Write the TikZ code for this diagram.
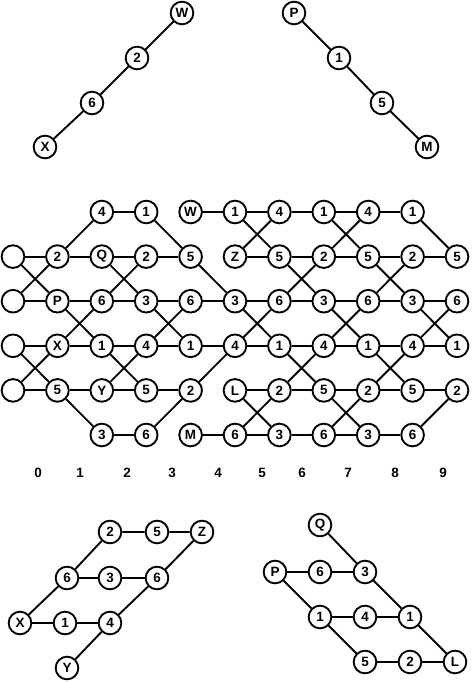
\documentclass[tikz,border=0pt]{standalone}
\usepackage{fontspec}
\setmainfont{Liberation Sans}
\tikzset{
	knot/.style={circle, draw, line width=1.6pt, minimum size=0.68cm, inner sep=0pt, font=\fontsize{11.5}{13}\selectfont\bfseries},
	stage/.style={inner sep=0pt, font=\fontsize{11.5}{13}\selectfont\bfseries},
}
\begin{document}
\begin{tikzpicture}[x=0.03cm, y=-0.03cm, line width=1.6pt]
	\useasboundingbox (0,0) rectangle (474,682);

	% top left chain
	\node[knot] (tW) at (182,13) {W};
	\node[knot] (t2) at (137,58) {2};
	\node[knot] (t6) at (92,103) {6};
	\node[knot] (tX) at (45,147) {X};
	\draw (tW) -- (t2) -- (t6) -- (tX);

	% top right chain
	\node[knot] (tP) at (294,13) {P};
	\node[knot] (t1) at (339,58) {1};
	\node[knot] (t5) at (382,103) {5};
	\node[knot] (tM) at (427,147) {M};
	\draw (tP) -- (t1) -- (t5) -- (tM);

	% lattice, row 0
	\node[knot] (r0c2) at (101.8,212) {4};
	\node[knot] (r0c3) at (146.2,212) {1};
	\node[knot] (r0c4) at (190.6,212) {W};
	\node[knot] (r0c5) at (235,212) {1};
	\node[knot] (r0c6) at (279.4,212) {4};
	\node[knot] (r0c7) at (323.8,212) {1};
	\node[knot] (r0c8) at (368.2,212) {4};
	\node[knot] (r0c9) at (412.6,212) {1};

	% row 1
	\node[knot] (r1c0) at (13,256.6) {};
	\node[knot] (r1c1) at (57.4,256.6) {2};
	\node[knot] (r1c2) at (101.8,256.6) {Q};
	\node[knot] (r1c3) at (146.2,256.6) {2};
	\node[knot] (r1c4) at (190.6,256.6) {5};
	\node[knot] (r1c5) at (235,256.6) {Z};
	\node[knot] (r1c6) at (279.4,256.6) {5};
	\node[knot] (r1c7) at (323.8,256.6) {2};
	\node[knot] (r1c8) at (368.2,256.6) {5};
	\node[knot] (r1c9) at (412.6,256.6) {2};
	\node[knot] (r1c10) at (457,256.6) {5};

	% row 2
	\node[knot] (r2c0) at (13,301.2) {};
	\node[knot] (r2c1) at (57.4,301.2) {P};
	\node[knot] (r2c2) at (101.8,301.2) {6};
	\node[knot] (r2c3) at (146.2,301.2) {3};
	\node[knot] (r2c4) at (190.6,301.2) {6};
	\node[knot] (r2c5) at (235,301.2) {3};
	\node[knot] (r2c6) at (279.4,301.2) {6};
	\node[knot] (r2c7) at (323.8,301.2) {3};
	\node[knot] (r2c8) at (368.2,301.2) {6};
	\node[knot] (r2c9) at (412.6,301.2) {3};
	\node[knot] (r2c10) at (457,301.2) {6};

	% row 3
	\node[knot] (r3c0) at (13,345.8) {};
	\node[knot] (r3c1) at (57.4,345.8) {X};
	\node[knot] (r3c2) at (101.8,345.8) {1};
	\node[knot] (r3c3) at (146.2,345.8) {4};
	\node[knot] (r3c4) at (190.6,345.8) {1};
	\node[knot] (r3c5) at (235,345.8) {4};
	\node[knot] (r3c6) at (279.4,345.8) {1};
	\node[knot] (r3c7) at (323.8,345.8) {4};
	\node[knot] (r3c8) at (368.2,345.8) {1};
	\node[knot] (r3c9) at (412.6,345.8) {4};
	\node[knot] (r3c10) at (457,345.8) {1};

	% row 4
	\node[knot] (r4c0) at (13,390.4) {};
	\node[knot] (r4c1) at (57.4,390.4) {5};
	\node[knot] (r4c2) at (101.8,390.4) {Y};
	\node[knot] (r4c3) at (146.2,390.4) {5};
	\node[knot] (r4c4) at (190.6,390.4) {2};
	\node[knot] (r4c5) at (235,390.4) {L};
	\node[knot] (r4c6) at (279.4,390.4) {2};
	\node[knot] (r4c7) at (323.8,390.4) {5};
	\node[knot] (r4c8) at (368.2,390.4) {2};
	\node[knot] (r4c9) at (412.6,390.4) {5};
	\node[knot] (r4c10) at (457,390.4) {2};

	% row 5
	\node[knot] (r5c2) at (101.8,435) {3};
	\node[knot] (r5c3) at (146.2,435) {6};
	\node[knot] (r5c4) at (190.6,435) {M};
	\node[knot] (r5c5) at (235,435) {6};
	\node[knot] (r5c6) at (279.4,435) {3};
	\node[knot] (r5c7) at (323.8,435) {6};
	\node[knot] (r5c8) at (368.2,435) {3};
	\node[knot] (r5c9) at (412.6,435) {6};

	% horizontal links
	\draw (r0c2) -- (r0c3) (r0c4) -- (r0c5) -- (r0c6) -- (r0c7) -- (r0c8) -- (r0c9);
	\draw (r1c0) -- (r1c1) -- (r1c2) -- (r1c3) -- (r1c4) (r1c5) -- (r1c6) -- (r1c7) -- (r1c8) -- (r1c9) -- (r1c10);
	\draw (r2c0) -- (r2c1) -- (r2c2) -- (r2c3) -- (r2c4) -- (r2c5) -- (r2c6) -- (r2c7) -- (r2c8) -- (r2c9) -- (r2c10);
	\draw (r3c0) -- (r3c1) -- (r3c2) -- (r3c3) -- (r3c4) -- (r3c5) -- (r3c6) -- (r3c7) -- (r3c8) -- (r3c9) -- (r3c10);
	\draw (r4c0) -- (r4c1) -- (r4c2) -- (r4c3) -- (r4c4) (r4c5) -- (r4c6) -- (r4c7) -- (r4c8) -- (r4c9) -- (r4c10);
	\draw (r5c2) -- (r5c3) (r5c4) -- (r5c5) -- (r5c6) -- (r5c7) -- (r5c8) -- (r5c9);

	% slanted links
	\draw (r1c1) -- (r0c2) (r0c3) -- (r1c4);
	\draw (r1c0) -- (r2c1) (r2c0) -- (r1c1);
	\draw (r1c2) -- (r2c3) (r2c2) -- (r1c3);
	\draw (r1c4) -- (r2c5);
	\draw (r2c1) -- (r3c2) (r3c1) -- (r2c2);
	\draw (r2c3) -- (r3c4) (r3c3) -- (r2c4);
	\draw (r3c0) -- (r4c1) (r4c0) -- (r3c1);
	\draw (r3c2) -- (r4c3) (r4c2) -- (r3c3);
	\draw (r4c4) -- (r3c5);
	\draw (r4c1) -- (r5c2) (r5c3) -- (r4c4);

	\draw (r0c5) -- (r1c6) (r1c5) -- (r0c6);
	\draw (r0c7) -- (r1c8) (r1c7) -- (r0c8);
	\draw (r0c9) -- (r1c10);
	\draw (r1c6) -- (r2c7) (r2c6) -- (r1c7);
	\draw (r1c8) -- (r2c9) (r2c8) -- (r1c9);
	\draw (r2c5) -- (r3c6) (r3c5) -- (r2c6);
	\draw (r2c7) -- (r3c8) (r3c7) -- (r2c8);
	\draw (r2c9) -- (r3c10) (r3c9) -- (r2c10);
	\draw (r3c6) -- (r4c7) (r4c6) -- (r3c7);
	\draw (r3c8) -- (r4c9) (r4c8) -- (r3c9);
	\draw (r4c5) -- (r5c6) (r5c5) -- (r4c6);
	\draw (r4c7) -- (r5c8) (r5c7) -- (r4c8);
	\draw (r5c9) -- (r4c10);

	% stage numbers
	\node[stage] (s0) at (38,473) {0};
	\node[stage] (s1) at (80,473) {1};
	\node[stage] (s2) at (127,473) {2};
	\node[stage] (s3) at (172,473) {3};
	\node[stage] (s4) at (218,473) {4};
	\node[stage] (s5) at (262,473) {5};
	\node[stage] (s6) at (302,473) {6};
	\node[stage] (s7) at (348,473) {7};
	\node[stage] (s8) at (395,473) {8};
	\node[stage] (s9) at (443,473) {9};

	% bottom left piece
	\node[knot] (a2) at (110,532) {2};
	\node[knot] (a5) at (157,532) {5};
	\node[knot] (aZ) at (202,532) {Z};
	\node[knot] (a6) at (67,578) {6};
	\node[knot] (a3) at (110,578) {3};
	\node[knot] (a6b) at (157,578) {6};
	\node[knot] (aX) at (20,623) {X};
	\node[knot] (a1) at (65,623) {1};
	\node[knot] (a4) at (110,623) {4};
	\node[knot] (aY) at (67,668) {Y};
	\draw (a2) -- (a5) -- (aZ) -- (a6b) -- (a4) -- (aY);
	\draw (aX) -- (a6) -- (a2);
	\draw (a6) -- (a3) -- (a6b);
	\draw (aX) -- (a1) -- (a4);

	% bottom right piece
	\node[knot] (bQ) at (320,525) {Q};
	\node[knot] (bP) at (275,572) {P};
	\node[knot] (b6) at (320,572) {6};
	\node[knot] (b3) at (365,572) {3};
	\node[knot] (b1) at (320,617) {1};
	\node[knot] (b4) at (365,617) {4};
	\node[knot] (b1b) at (410,617) {1};
	\node[knot] (b5) at (365,662) {5};
	\node[knot] (b2) at (410,662) {2};
	\node[knot] (bL) at (455,662) {L};
	\draw (bQ) -- (b3) -- (b1b) -- (bL);
	\draw (bP) -- (b6) -- (b3);
	\draw (bP) -- (b1) -- (b5);
	\draw (b1) -- (b4) -- (b1b);
	\draw (b5) -- (b2) -- (bL);
\end{tikzpicture}
\end{document}
